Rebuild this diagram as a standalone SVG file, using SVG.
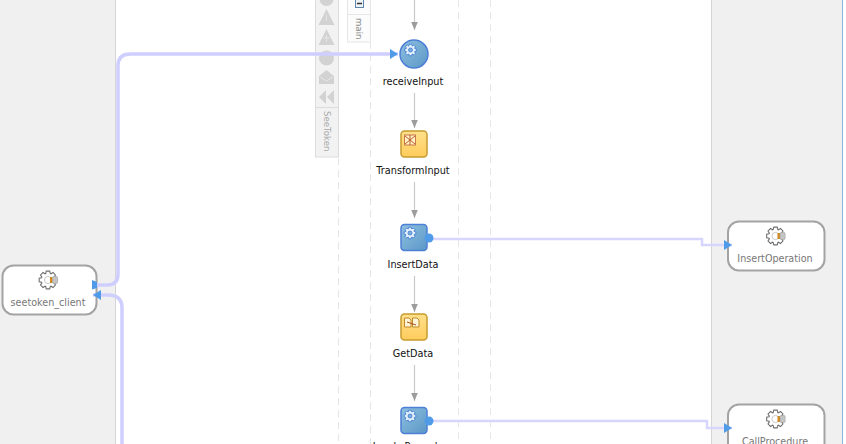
<svg xmlns="http://www.w3.org/2000/svg" xmlns:xlink="http://www.w3.org/1999/xlink" width="846" height="444" viewBox="0 0 846 444">
<style>
text{font-family:"DejaVu Sans","Liberation Sans",sans-serif;font-size:9.7px;text-anchor:middle}
.lb{fill:#111}
.sv{fill:#777;font-size:9.6px}
.svc rect{fill:#fff;stroke:#a3a3a3;stroke-width:2}
.wire{fill:none;stroke:#cfcfff;stroke-width:3.5}
.wire2{fill:none;stroke:#d6d6ff;stroke-width:2.5}
.seq{fill:none;stroke:#c8c8c8;stroke-width:1.2}
.dash{stroke:#e6e6e6;stroke-dasharray:7 5;fill:none}
.tool{fill:#d2d2d2}
.inv{fill:url(#blue);stroke:#4d7fd6;stroke-width:1.5}
.tr{fill:url(#yel);stroke:#c69c2e;stroke-width:1.5}
.dot{fill:#4f9be8}
</style>
<defs>
<linearGradient id="blue" x1="0" y1="0" x2="1" y2="1"><stop offset="0" stop-color="#8fc0e0"/><stop offset="1" stop-color="#5a97c6"/></linearGradient>
<linearGradient id="yel" x1="0" y1="0" x2="0" y2="1"><stop offset="0" stop-color="#ffe08c"/><stop offset="1" stop-color="#ffcc5c"/></linearGradient>
<marker id="seqh" markerWidth="10" markerHeight="7" refX="8.500" refY="3.500" orient="auto" markerUnits="userSpaceOnUse"><path d="M0 0L8.500 3.500L0 7Z" fill="#9c9c9c"/></marker>
<marker id="wh" markerWidth="9" markerHeight="10" refX="8" refY="5" orient="auto" markerUnits="userSpaceOnUse"><path d="M0 0L8 5L0 10Z" fill="#4f9be8"/></marker>
<polygon id="gearshape" points="-2.33,-6.39 -1.72,-8.83 1.72,-8.83 2.33,-6.39 2.87,-6.17 5.03,-7.46 7.46,-5.03 6.17,-2.87 6.39,-2.33 8.83,-1.72 8.83,1.72 6.39,2.33 6.17,2.87 7.46,5.03 5.03,7.46 2.87,6.17 2.33,6.39 1.72,8.83 -1.72,8.83 -2.33,6.39 -2.87,6.17 -5.03,7.46 -7.46,5.03 -6.17,2.87 -6.39,2.33 -8.83,1.72 -8.83,-1.72 -6.39,-2.33 -6.17,-2.87 -7.46,-5.03 -5.03,-7.46 -2.87,-6.17"/>
<g id="wgear"><use xlink:href="#gearshape" transform="scale(.66)" fill="#e4f0fb" stroke="#2f6fd0" stroke-width="1.1"/><circle r="2" fill="#7fb0dc" stroke="#2f6fd0" stroke-width=".7"/></g>
<g id="sgear"><use xlink:href="#gearshape" fill="#fff" stroke="#707070" stroke-width="1.1"/><circle r="3.600" fill="#fff" stroke="#aaa" stroke-width=".6"/><rect x="2" y="-3" width="2.600" height="6" fill="#d08a1e"/><rect x="4.600" y="-3.500" width="5" height="7" rx="1" fill="#c4c4c4" stroke="#a0a0a0" stroke-width=".6"/></g>
</defs>

<rect width="846" height="444" fill="#fff"/>
<rect x="0" y="0" width="116" height="444" fill="#f0f0f0"/>
<rect x="711" y="0" width="132" height="444" fill="#f0f0f0"/>
<path d="M115.500 0V444M711.500 0V444" stroke="#d4d4d4" fill="none"/>
<path d="M842.500 0V444" stroke="#8fb4dc" fill="none"/>

<g id="lanes">
<path class="dash" d="M338.500 158V444M370.500 42V444M458.500 0V444M490.500 0V444"/>
</g>

<g id="toolbar">
<rect x="315.500" y="-2" width="23" height="159" fill="#f2f2f2" stroke="#dcdcdc"/>
<path d="M316 107.500H338" stroke="#dcdcdc"/>
<circle class="tool" cx="326.500" cy="-1" r="7"/>
<path class="tool" d="M326.500 9L334.500 25H318.500Z"/>
<path class="tool" d="M326.500 29L334.500 45H318.500Z"/>
<path d="M326.500 15V21M323 38H330M326.500 35V42" stroke="#e6e6e6" fill="none"/>
<circle class="tool" cx="326.500" cy="58" r="7.500"/>
<path class="tool" d="M319 76L326.500 70L334 76V84H319Z"/>
<path d="M320 77L326.500 81L333 77" stroke="#e6e6e6" fill="none"/>
<path class="tool" d="M326 90V104L319 97ZM334 90V104L327 97Z"/>
<text x="0" y="0" transform="translate(324,111) rotate(90)" style="fill:#a8a8a8;text-anchor:start;font-size:8.600px">SeeToken</text>
</g>

<g id="main-tab">
<rect x="347.500" y="-2" width="23" height="44" fill="#fcfcfc" stroke="#e6e6e6"/>
<path d="M348 14.500H370" stroke="#e6e6e6"/>
<rect x="355.500" y="-1.500" width="8" height="9" fill="#eef3f8" stroke="#5f86a8"/>
<path d="M357 3.500H362" stroke="#333" stroke-width="1.500"/>
<text x="0" y="0" transform="translate(356,18) rotate(90)" style="fill:#888;text-anchor:start;font-size:8.600px">main</text>
</g>

<g id="seetoken_client" class="svc">
<rect x="2.500" y="265.500" width="94" height="49" rx="11"/>
<use xlink:href="#sgear" x="48" y="280"/>
<text class="sv" x="48" y="306">seetoken_client</text>
</g>
<g id="InsertOperation" class="svc">
<rect x="728" y="221.500" width="96.500" height="49" rx="11"/>
<use xlink:href="#sgear" x="775.500" y="236"/>
<text class="sv" x="775" y="262">InsertOperation</text>
</g>
<g id="CallProcedure" class="svc">
<rect x="728" y="404.500" width="96.500" height="60" rx="11"/>
<use xlink:href="#sgear" x="775.500" y="419"/>
<text class="sv" x="775" y="445">CallProcedure</text>
</g>

<g id="connectors">
<path class="wire" d="M97 285H107Q118 285 118 274V66Q118 54 130 54H398" marker-end="url(#wh)"/>
<path class="wire" d="M122 444V308Q122 295 108 295H93" marker-end="url(#wh)"/>
<path class="dot" d="M92 280L97 282V288L92 289.500Z"/>
<path class="wire2" d="M432 239H702V245H732" marker-end="url(#wh)"/>
<path class="wire2" d="M432 421H707V428H732" marker-end="url(#wh)"/>
<path class="seq" d="M414.500 0V30" marker-end="url(#seqh)"/>
<path class="seq" d="M414.500 93V128" marker-end="url(#seqh)"/>
<path class="seq" d="M414.500 182V218" marker-end="url(#seqh)"/>
<path class="seq" d="M414.500 276V312" marker-end="url(#seqh)"/>
<path class="seq" d="M414.500 365V401" marker-end="url(#seqh)"/>
</g>

<g id="receiveInput">
<circle class="inv" cx="414" cy="54" r="14"/>
<use xlink:href="#wgear" x="410.500" y="50"/>
<text class="lb" x="413" y="85">receiveInput</text>
</g>
<g id="TransformInput">
<rect class="tr" x="401" y="131" width="26" height="26" rx="3.500"/>
<rect x="404.500" y="135" width="11" height="10" fill="#fff0c8" stroke="#c8794a"/>
<path d="M410 135V145M405 136L415 144M415 136L405 144" stroke="#b8602a" fill="none"/>
<text class="lb" x="413" y="174">TransformInput</text>
</g>
<g id="InsertData">
<rect class="inv" x="401" y="224.500" width="26" height="26" rx="3.500"/>
<use xlink:href="#wgear" x="410" y="233"/>
<circle class="dot" cx="429" cy="238" r="4.500"/>
<text class="lb" x="413" y="268">InsertData</text>
</g>
<g id="GetData">
<rect class="tr" x="401" y="314" width="26" height="26" rx="3.500"/>
<path d="M404.500 318H409L411 320V327H404.500ZM412.500 318H417L419 320V327H412.500Z" fill="#fff5d6" stroke="#c08a2c"/>
<path d="M407 322L416 325" stroke="#a5521e" fill="none"/>
<text class="lb" x="413" y="357">GetData</text>
</g>
<g id="InvokeProcedure">
<rect class="inv" x="401" y="407.500" width="26" height="26" rx="3.500"/>
<use xlink:href="#wgear" x="410" y="416"/>
<circle class="dot" cx="429" cy="421" r="4.500"/>
<text class="lb" x="413" y="450">InvokeProcedure</text>
</g>
</svg>
